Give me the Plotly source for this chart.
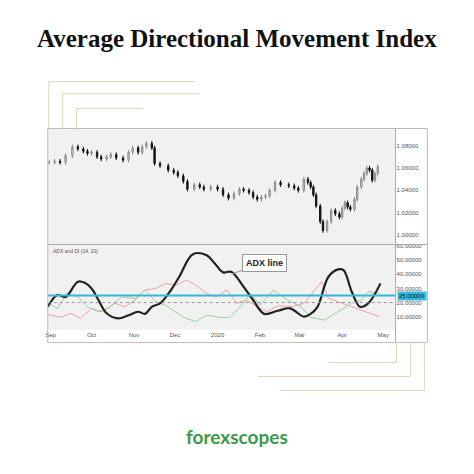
import pandas as pd
from plotly import graph_objects as go

# price closes, x = days since 2019-09-01
price_day = [-1, 3, 7, 11, 16, 20, 24, 27, 30, 34, 37, 41, 44, 48, 53, 57, 60, 64, 67, 70, 74, 76, 80, 86, 90,
             93, 97, 100, 105, 109, 112, 117, 122, 126, 130, 134, 138, 141, 145, 148, 151, 154, 157, 160, 164,
             168, 174, 178, 181, 185, 188, 190, 192, 194, 197, 199, 202, 205, 208, 211, 213, 215, 217, 219,
             222, 224, 227, 229, 231, 233, 235, 237, 239]
price_close = [1.065, 1.066, 1.065, 1.071, 1.079, 1.077, 1.075, 1.073, 1.074, 1.070, 1.068, 1.070, 1.072,
               1.069, 1.067, 1.074, 1.078, 1.074, 1.079, 1.082, 1.078, 1.064, 1.062, 1.058, 1.056,
               1.053, 1.048, 1.041, 1.045, 1.043, 1.041, 1.043, 1.041, 1.036, 1.033, 1.037, 1.041, 1.040,
               1.038, 1.034, 1.032, 1.034, 1.035, 1.040, 1.047, 1.045, 1.044, 1.042, 1.040, 1.050, 1.047,
               1.043, 1.036, 1.026, 1.012, 1.004, 1.012, 1.022, 1.019, 1.016, 1.024, 1.029, 1.025, 1.023,
               1.032, 1.043, 1.050, 1.055, 1.060, 1.058, 1.049, 1.055, 1.061]

adx_day = [-2, 5, 11, 20, 25, 30, 35, 41, 49, 57, 64, 69, 74, 80, 88, 94, 104, 114, 120, 126, 132, 141,
           148, 156, 166, 175, 185, 190, 195, 203, 210, 214, 220, 226, 232, 241]
adx_val = [17, 25.3, 24, 34.8, 34, 30, 21.8, 12.4, 8.8, 11, 13.5, 12, 17, 19.4, 28.9, 38.3, 54.3, 53.6,
           47.7, 41.4, 41.8, 31.2, 21.8, 12, 14.2, 15.9, 10, 12, 17, 38.3, 43.5, 43, 27.7, 17, 19.4, 33.6]

pdi_day = [-3, 7, 15, 22, 30, 37, 47, 54, 62, 69, 77, 84, 92, 99, 106, 114, 121, 129, 136, 143, 151,
           158, 166, 176, 185, 193, 198, 203, 210, 220, 230, 240]
pdi_val = [11.8, 9.5, 12.4, 8.8, 15.9, 13.5, 19.4, 17, 21.8, 28.9, 30, 33.6, 32.4, 36, 32.4, 26.5, 24,
           28.9, 19.4, 21.8, 17, 13.5, 17.7, 17, 19.4, 28.9, 34.8, 23, 20.6, 17, 13.5, 10]

mdi_day = [-3, 5, 12, 20, 27, 35, 42, 52, 62, 69, 77, 84, 91, 99, 106, 114, 124, 131, 141, 146, 153,
           163, 173, 183, 190, 200, 208, 220, 227, 232, 240]
mdi_val = [20.6, 15.9, 26.5, 24, 17, 13.5, 15.9, 24, 22.9, 28.9, 20.6, 18.2, 13.5, 8.8, 6.5, 11, 9.5,
           9.5, 19.4, 26.5, 18.2, 28.9, 21.8, 17, 9.5, 7.6, 12.4, 19.4, 21.8, 27.7, 26.5]

month_ticks = ["2019-09-01", "2019-10-01", "2019-11-01", "2019-12-01", "2020-01-01",
               "2020-02-01", "2020-03-01", "2020-04-01", "2020-05-01"]
month_labels = ["Sep", "Oct", "Nov", "Dec", "2020", "Feb", "Mar", "Apr", "May"]
price_ticks = [1.00, 1.02, 1.04, 1.06, 1.08]
adx_ticks = [10, 20, 30, 40, 50, 60]

base = pd.Timestamp("2019-09-01")
def to_dates(days):
    return [base + pd.Timedelta(days=d) for d in days]

# open = previous close, wicks a touch beyond body
opens = [price_close[0]] + price_close[:-1]
highs = [max(o, c) + 0.002 for o, c in zip(opens, price_close)]
lows = [min(o, c) - 0.002 for o, c in zip(opens, price_close)]

W = 474.0
# page offset of the plot inside the browser window
def px(x): return (x - 10) / W
def py(y): return 1 - (y - 9) / W

fig = go.Figure()
fig.add_trace(go.Candlestick(x=to_dates(price_day), open=opens, high=highs, low=lows, close=price_close,
                             increasing=dict(line=dict(color="#8a8a8a", width=1), fillcolor="#d8d8d8"),
                             decreasing=dict(line=dict(color="#111111", width=1), fillcolor="#111111"),
                             whiskerwidth=0, xaxis="x", yaxis="y", showlegend=False))
fig.add_trace(go.Scatter(x=to_dates(pdi_day), y=pdi_val, mode="lines", line=dict(color="#f0a0a0", width=1),
                         xaxis="x2", yaxis="y2", showlegend=False))
fig.add_trace(go.Scatter(x=to_dates(mdi_day), y=mdi_val, mode="lines", line=dict(color="#9ccf9c", width=1),
                         xaxis="x2", yaxis="y2", showlegend=False))
fig.add_trace(go.Scatter(x=to_dates(adx_day), y=adx_val, mode="lines", line=dict(color="#222222", width=2.2, shape="spline"),
                         xaxis="x2", yaxis="y2", showlegend=False))

xr = ["2019-08-30", "2020-05-10"]
fig.update_layout(
    width=474, height=474, margin=dict(l=0, r=0, t=0, b=0),
    paper_bgcolor="white", plot_bgcolor="#f1f1f1",
    xaxis=dict(domain=[px(47), px(397)], range=xr, showticklabels=False, showgrid=False,
               rangeslider=dict(visible=False), anchor="y", zeroline=False, showline=False),
    yaxis=dict(domain=[py(244), py(128)], range=[0.992, 1.0953], side="right", anchor="x",
               tickvals=price_ticks, ticktext=[f"{v:.5f}" for v in price_ticks],
               tickfont=dict(size=6, color="#555"), showgrid=False, zeroline=False),
    xaxis2=dict(domain=[px(47), px(397)], range=xr, anchor="y2", showgrid=False,
                tickvals=month_ticks, ticktext=month_labels, tickfont=dict(size=6, color="#555"),
                ticks="", zeroline=False),
    yaxis2=dict(domain=[py(330), py(245)], range=[0.8, 60.8], side="right", anchor="x2",
                tickvals=adx_ticks, ticktext=[f"{v:.5f}" for v in adx_ticks],
                tickfont=dict(size=6, color="#555"), showgrid=False, zeroline=False),
    font=dict(family="Liberation Sans"),
)

fig.add_hline(y=25, line=dict(color="#35b8dc", width=2), xref="x2", yref="y2")
fig.add_hline(y=20, line=dict(color="#999", width=1, dash="dot"), xref="x2", yref="y2")

shapes = []
gold = dict(color="#e3d6b8", width=1)
# chart frame
shapes.append(dict(type="rect", xref="paper", yref="paper", x0=px(47), x1=px(429), y0=py(343), y1=py(128),
                   line=dict(color="#bbbbbb", width=1)))
shapes.append(dict(type="line", xref="paper", yref="paper", x0=px(47), x1=px(429), y0=py(244.5), y1=py(244.5),
                   line=dict(color="#aaaaaa", width=1)))
shapes.append(dict(type="line", xref="paper", yref="paper", x0=px(397), x1=px(397), y0=py(343), y1=py(128),
                   line=dict(color="#aaaaaa", width=1)))
# decorative corner lines
for x0, x1, y in [(48, 195, 81), (62, 200, 93), (76, 143, 108)]:
    shapes.append(dict(type="line", xref="paper", yref="paper", x0=px(x0), x1=px(x1), y0=py(y), y1=py(y), line=gold))
    shapes.append(dict(type="line", xref="paper", yref="paper", x0=px(x0), x1=px(x0), y0=py(y), y1=py(128), line=gold))
for x0, x1, y in [(330, 398, 363), (258, 412, 377), (280, 426, 391)]:
    shapes.append(dict(type="line", xref="paper", yref="paper", x0=px(x0), x1=px(x1), y0=py(y), y1=py(y), line=gold))
    shapes.append(dict(type="line", xref="paper", yref="paper", x0=px(x1), x1=px(x1), y0=py(343), y1=py(y), line=gold))
fig.update_layout(shapes=list(fig.layout.shapes) + shapes)

fig.add_annotation(text="<b>Average Directional Movement Index</b>", xref="paper", yref="paper",
                   x=px(237), y=py(38), yanchor="middle", showarrow=False,
                   font=dict(family="Liberation Serif", size=25, color="#111"))
fig.add_annotation(text="ADX and DI (14, 20)", xref="paper", yref="paper", x=px(50), y=py(251),
                   xanchor="left", yanchor="middle", showarrow=False, font=dict(size=5, color="#555"))
fig.add_annotation(text="<b>ADX line</b>", xref="paper", yref="paper", x=px(232), y=py(274),
                   showarrow=True, ax=33, ay=-11,
                   arrowhead=0, arrowcolor="#999", standoff=0,
                   bgcolor="white", bordercolor="#999", borderwidth=1, borderpad=3,
                   font=dict(size=9, color="#222"))
fig.add_annotation(text="25.00000", xref="paper", yref="y2", x=px(398), y=25, xanchor="left",
                   yanchor="middle", showarrow=False, bgcolor="#35b8dc", font=dict(size=6, color="#111"))
fig.add_annotation(text="<b>forexscopes</b>", xref="paper", yref="paper", x=px(237), y=py(437),
                   yanchor="middle", showarrow=False, font=dict(family="Lato", size=19, color="#3a9a48"))

fig.write_html("out.html")
